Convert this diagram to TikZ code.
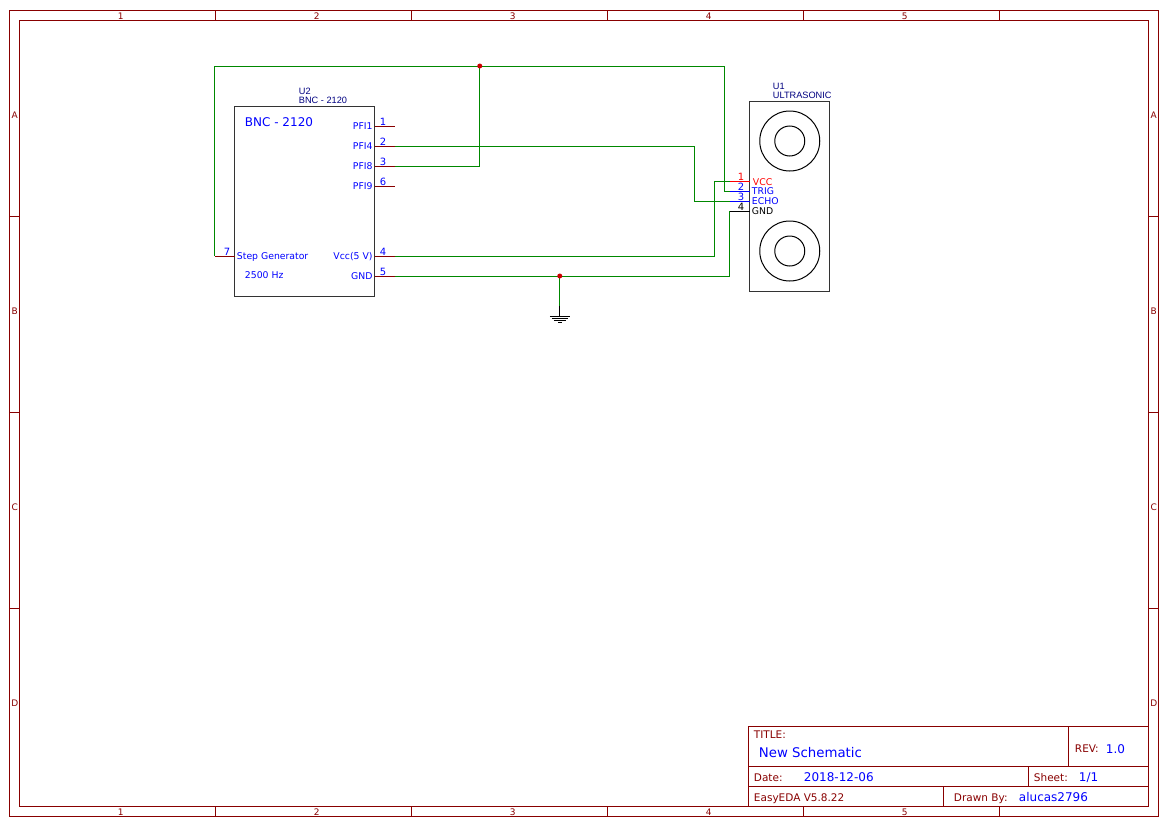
\documentclass[tikz,border=0pt]{standalone}
\usepackage{fontspec}
\setmainfont{DejaVu Sans}
\newfontfamily\partfont{Liberation Sans}
\usetikzlibrary{positioning,calc}
\definecolor{framered}{HTML}{880000}
\definecolor{wiregreen}{HTML}{008800}
\definecolor{textblue}{HTML}{0000FF}
\definecolor{partblue}{HTML}{000080}
\definecolor{juncred}{HTML}{CC0000}
\newcommand{\fsz}[1]{\fontsize{#1}{#1}\selectfont}
\tikzset{
    x=1pt,
    y=-1pt,
    part/.style = {
        draw=black!80,
        shape=rectangle,
        inner sep=0pt,
        line width=1pt
    },
    frame/.style = {
        draw=framered,
        line width=1pt,
        yshift=0.8pt
    },
    wire/.style = {
        draw=wiregreen,
        line width=1pt
    },
    pin/.style = {
        draw=framered,
        line width=1pt
    },
    circ/.style = {
        draw=black,
        line width=1pt
    },
    junc/.style = {
        fill=juncred,
        shape=circle,
        inner sep=0pt,
        minimum size=5pt
    },
    ticklab/.style = {
        text=framered,
        font=\fsz{9},
        anchor=center,
        inner sep=0pt
    },
    framelab/.style = {
        text=framered,
        font=\fsz{10.5},
        anchor=base west,
        inner sep=0pt
    },
    bluelab/.style = {
        text=textblue,
        font=\fsz{12},
        anchor=base west,
        inner sep=0pt
    },
    pinnum/.style = {
        text=textblue,
        font=\fsz{10},
        anchor=base west,
        inner sep=0pt
    },
    pinname/.style = {
        text=textblue,
        font=\fsz{9.3},
        anchor=base east,
        inner sep=0pt
    },
    partlab/.style = {
        text=partblue,
        font=\partfont\fsz{9.2},
        anchor=base west,
        inner sep=0pt
    },
}
\begin{document}
\begin{tikzpicture}
    \useasboundingbox (0.25,0) rectangle (1169.25,827);

    % sheet frame
    \node[frame,minimum width=1149pt,minimum height=806pt,inner sep=0pt] (outer) at (584.5,414) {};
    \node[frame,minimum width=1129pt,minimum height=786pt,inner sep=0pt] (inner) at (584.5,414) {};
    \path[frame] (216,11) -- (216,21);
    \path[frame] (412,11) -- (412,21);
    \path[frame] (608,11) -- (608,21);
    \path[frame] (804,11) -- (804,21);
    \path[frame] (1000,11) -- (1000,21);
    \path[frame] (216,807) -- (216,817);
    \path[frame] (412,807) -- (412,817);
    \path[frame] (608,807) -- (608,817);
    \path[frame] (804,807) -- (804,817);
    \path[frame] (1000,807) -- (1000,817);
    \path[frame] (10,217) -- (20,217);
    \path[frame] (10,413) -- (20,413);
    \path[frame] (10,609) -- (20,609);
    \path[frame] (1149,217) -- (1159,217);
    \path[frame] (1149,413) -- (1159,413);
    \path[frame] (1149,609) -- (1159,609);

    \node[ticklab] (t1) at (121,16) {1};
    \node[ticklab] (t2) at (317,16) {2};
    \node[ticklab] (t3) at (513,16) {3};
    \node[ticklab] (t4) at (709,16) {4};
    \node[ticklab] (t5) at (905,16) {5};
    \node[ticklab] (b1) at (121,812) {1};
    \node[ticklab] (b2) at (317,812) {2};
    \node[ticklab] (b3) at (513,812) {3};
    \node[ticklab] (b4) at (709,812) {4};
    \node[ticklab] (b5) at (905,812) {5};
    \node[ticklab] (la) at (15,115) {A};
    \node[ticklab] (lb) at (15,311) {B};
    \node[ticklab] (lc) at (15,507) {C};
    \node[ticklab] (ld) at (15,703) {D};
    \node[ticklab] (ra) at (1154,115) {A};
    \node[ticklab] (rb) at (1154,311) {B};
    \node[ticklab] (rc) at (1154,507) {C};
    \node[ticklab] (rd) at (1154,703) {D};

    % title block
    \node[frame,minimum width=400pt,minimum height=80pt,inner sep=0pt] (titleblock) at (949,767) {};
    \path[frame] (749,767) -- (1149,767);
    \path[frame] (749,787) -- (1149,787);
    \path[frame] (1069,727) -- (1069,767);
    \path[frame] (1029,767) -- (1029,787);
    \path[frame] (944,787) -- (944,807);
    \node[framelab] (titlelab) at (754,738) {TITLE:};
    \node[bluelab,font=\fsz{13.3}] (titleval) at (759,757) {New Schematic};
    \node[framelab] (revlab) at (1075,752) {REV:};
    \node[bluelab] (revval) at (1106,753) {1.0};
    \node[framelab] (datelab) at (754,781) {Date:};
    \node[bluelab] (dateval) at (804,781) {2018-12-06};
    \node[framelab] (sheetlab) at (1034,781) {Sheet:};
    \node[bluelab] (sheetval) at (1079,781) {1/1};
    \node[framelab] (edalab) at (754,801) {EasyEDA V5.8.22};
    \node[framelab] (drawnlab) at (954,801) {Drawn By:};
    \node[bluelab] (drawnval) at (1019,801) {alucas2796};

    % U2
    \node[part,minimum width=140pt,minimum height=190pt] (u2) at (305,201) {};
    \node[partlab] (u2ref) at (299,94) {U2};
    \node[partlab] (u2name) at (299,103) {BNC - 2120};
    \node[bluelab] (u2big) at (245,126) {BNC - 2120};
    \node[pinname,anchor=base west] (u2step) at (237,259) {Step Generator};
    \node[pinname,anchor=base west] (u2freq) at (245,278) {2500 Hz};

    \coordinate (u2p1) at (375,126);
    \coordinate (u2p2) at (375,146);
    \coordinate (u2p3) at (375,166);
    \coordinate (u2p6) at (375,186);
    \coordinate (u2p4) at (375,256);
    \coordinate (u2p5) at (375,276);
    \coordinate (u2p7) at (235,256);
    \coordinate (u2e1) at (395,126);
    \coordinate (u2e2) at (395,146);
    \coordinate (u2e3) at (395,166);
    \coordinate (u2e6) at (395,186);
    \coordinate (u2e4) at (395,256);
    \coordinate (u2e5) at (395,276);
    \coordinate (u2e7) at (215,256);

    \node[pinname] (pfi1) at (373,129) {PFI1};
    \node[pinname] (pfi4) at (373,149) {PFI4};
    \node[pinname] (pfi8) at (373,169) {PFI8};
    \node[pinname] (pfi9) at (373,189) {PFI9};
    \node[pinname] (vcc5) at (373,259) {Vcc(5 V)};
    \node[pinname] (gnd5) at (373,279) {GND};
    \node[pinnum] (n1) at (380,125) {1};
    \node[pinnum] (n2) at (380,145) {2};
    \node[pinnum] (n3) at (380,165) {3};
    \node[pinnum] (n6) at (380,185) {6};
    \node[pinnum] (n4) at (380,255) {4};
    \node[pinnum] (n5) at (380,275) {5};
    \node[pinnum] (n7) at (224,255) {7};

    % U1
    \node[part,minimum width=80pt,minimum height=190pt] (u1) at (790,196) {};
    \node[partlab] (u1ref) at (773,89) {U1};
    \node[partlab] (u1name) at (773,98) {ULTRASONIC};
    \path[circ] (790,141) circle (30);
    \path[circ] (790,141) circle (15);
    \path[circ] (790,251) circle (30);
    \path[circ] (790,251) circle (15);

    \coordinate (u1p1) at (750,181);
    \coordinate (u1p2) at (750,191);
    \coordinate (u1p3) at (750,201);
    \coordinate (u1p4) at (750,211);
    \coordinate (u1e1) at (730,181);
    \coordinate (u1e2) at (730,191);
    \coordinate (u1e3) at (730,201);
    \coordinate (u1e4) at (730,211);

    \node[pinname,anchor=base west,text=red] (vcc) at (753,185) {VCC};
    \node[pinname,anchor=base west] (trig) at (752,194) {TRIG};
    \node[pinname,anchor=base west] (echo) at (752,204) {ECHO};
    \node[pinname,anchor=base west,text=black] (gnd) at (752,214) {GND};
    \node[pinnum,text=red] (m1) at (738,180) {1};
    \node[pinnum] (m2) at (738,190) {2};
    \node[pinnum] (m3) at (738,200) {3};
    \node[pinnum,text=black] (m4) at (738,210) {4};

    % junctions and ground
    \coordinate (jtop) at (480,66);
    \coordinate (jgnd) at (560,276);
    \coordinate (gndtop) at (560,306);
    \coordinate (gndend) at (560,316);
    \coordinate (topleft) at (215,66);

    % wires
    \path[wire] (u2e7) -| (topleft) -- (jtop);
    \path[wire] (jtop) -| (725,120) |- (u1e2);
    \path[wire] (u2e3) -| (jtop);
    \path[wire] (u2e2) -| (695,170) |- (u1e3);
    \path[wire] (u2e4) -| (715,220) |- (u1e1);
    \path[wire] (u2e5) -| (u1e4);
    \path[wire] (jgnd) -- (gndtop);

    % pins
    \path[pin] (u2p1) -- (u2e1);
    \path[pin] (u2p2) -- (u2e2);
    \path[pin] (u2p3) -- (u2e3);
    \path[pin] (u2p6) -- (u2e6);
    \path[pin] (u2p4) -- (u2e4);
    \path[pin] (u2p5) -- (u2e5);
    \path[pin] (u2p7) -- (u2e7);
    \path[pin,draw=red] (u1p1) -- (u1e1);
    \path[pin,draw=textblue] (u1p2) -- (u1e2);
    \path[pin,draw=textblue] (u1p3) -- (u1e3);
    \path[pin,draw=black] (u1p4) -- (u1e4);

    % ground symbol
    \path[circ] (gndtop) -- (gndend);
    \path[circ] (550,316) -- (570,316);
    \path[circ] (552,318) -- (568,318);
    \path[circ] (554,320) -- (566,320);
    \path[circ] (558,322) -- (562,322);

    \node[junc] (d1) at (jtop) {};
    \node[junc] (d2) at (jgnd) {};
\end{tikzpicture}
\end{document}
